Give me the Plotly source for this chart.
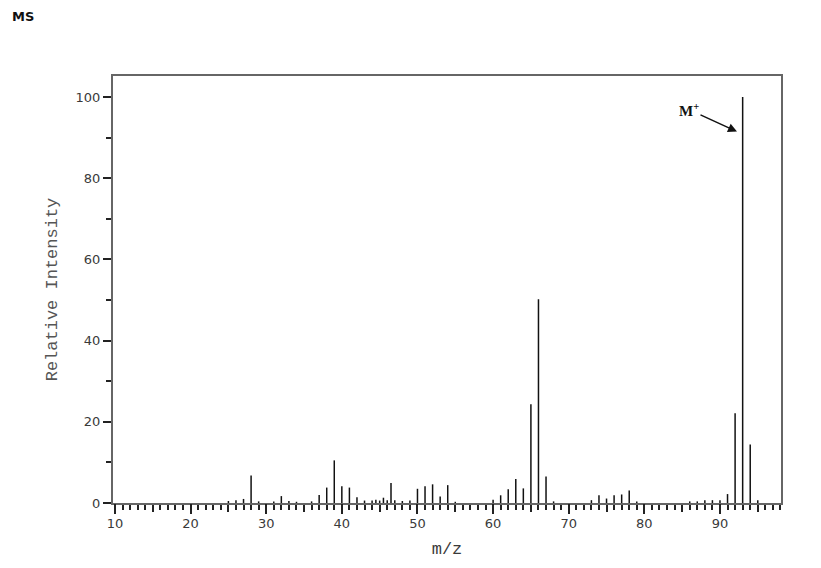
import plotly.graph_objects as go

# peak list
mz = [25, 26, 27, 28, 29, 31, 32, 33, 34, 36, 37, 38, 39, 40, 41, 42, 43, 44,
      44.5, 45, 45.5, 46, 46.5, 47, 48, 49, 50, 51, 52, 53, 54, 55,
      60, 61, 62, 63, 64, 65, 66, 67, 68,
      73, 74, 75, 76, 77, 78, 79, 86, 87, 88, 89, 90, 91, 92, 93, 94, 95]
intensity = [0.5, 0.7, 1.0, 6.8, 0.4, 0.4, 1.7, 0.5, 0.3, 0.4, 2.0, 3.8, 10.5, 4.1, 3.8, 1.4, 0.6, 0.6,
             0.8, 0.6, 1.3, 0.7, 4.9, 0.7, 0.5, 0.6, 3.5, 4.1, 4.6, 1.6, 4.4, 0.3,
             0.8, 1.9, 3.4, 5.9, 3.6, 24.3, 50.2, 6.5, 0.4,
             0.7, 1.9, 1.1, 1.9, 2.1, 3.1, 0.4, 0.4, 0.4, 0.7, 0.7, 0.7, 2.2, 22.1, 100, 14.4, 0.7]
x_ticks = [10, 20, 30, 40, 50, 60, 70, 80, 90]
y_ticks = [0, 20, 40, 60, 80, 100]

# sticks: each peak is a vertical segment from 0 to its intensity
xs, ys = [], []
for m, v in zip(mz, intensity):
    xs += [m, m, None]
    ys += [0, v, None]

mono = "Liberation Mono"
sans = "DejaVu Sans"
axis_col = "#666666"
tick_col = "#222222"
lab_col = "#3a3a3a"
five = list(range(10, 100, 5))

fig = go.Figure()
fig.add_trace(go.Scatter(x=xs, y=ys, mode="lines", line=dict(color="#111111", width=1.5),
                         hoverinfo="skip", showlegend=False))
# dummy trace on second x axis so the long ticks at every 10 show
fig.add_trace(go.Scatter(x=[x_ticks[0]], y=[0], xaxis="x2", mode="markers",
                         marker=dict(opacity=0), hoverinfo="skip", showlegend=False))

xr = [9.74, 98.07]
fig.update_layout(
    width=821, height=568,
    margin=dict(l=105, r=48, t=68, b=73),
    paper_bgcolor="white", plot_bgcolor="white",
    title=dict(text="<b>MS</b>", x=0.005, xanchor="left", y=0.986, yanchor="middle",
               font=dict(family=sans, size=13, color="#111111")),
    xaxis=dict(range=xr, tickmode="array", tickvals=five,
               ticktext=[str(v) if v in x_ticks else "" for v in five],
               ticks="outside", ticklen=7, tickwidth=1.5, tickcolor=tick_col,
               minor=dict(dtick=1, tick0=10, ticks="outside", ticklen=5, tickwidth=1.5, tickcolor=tick_col),
               showgrid=False, zeroline=False, showline=True, linecolor=axis_col, linewidth=2,
               mirror=True, automargin=False,
               tickfont=dict(family=sans, size=13, color=lab_col),
               title=dict(text="m/z", font=dict(family=mono, size=17, color=lab_col), standoff=13)),
    xaxis2=dict(range=xr, overlaying="x", side="bottom", anchor="y",
                tickvals=x_ticks, ticktext=["" for _ in x_ticks],
                ticks="outside", ticklen=10, tickwidth=1.5, tickcolor=tick_col,
                showgrid=False, zeroline=False, showline=False, automargin=False),
    yaxis=dict(range=[0, 105.2], tickvals=y_ticks,
               ticks="outside", ticklen=8, tickwidth=1.5, tickcolor=tick_col,
               minor=dict(dtick=10, tick0=0, ticks="outside", ticklen=5, tickwidth=1.5, tickcolor=tick_col),
               showgrid=False, zeroline=False, showline=True, linecolor=axis_col, linewidth=2,
               mirror=True, automargin=False,
               tickfont=dict(family=sans, size=13, color=lab_col),
               title=dict(text="Relative Intensity", font=dict(family=mono, size=17, color="#555555"),
                          standoff=14)),
    annotations=[dict(x=92.25, y=91.5, xref="x", yref="y", text="<b>M<sup>+</sup></b>",
                      showarrow=True, ax=-48, ay=-22, arrowhead=2, arrowsize=1.2, arrowwidth=1.5,
                      arrowcolor="#111111",
                      font=dict(family="Liberation Serif", size=15, color="#111111"))],
)

fig.write_html("out.html")
